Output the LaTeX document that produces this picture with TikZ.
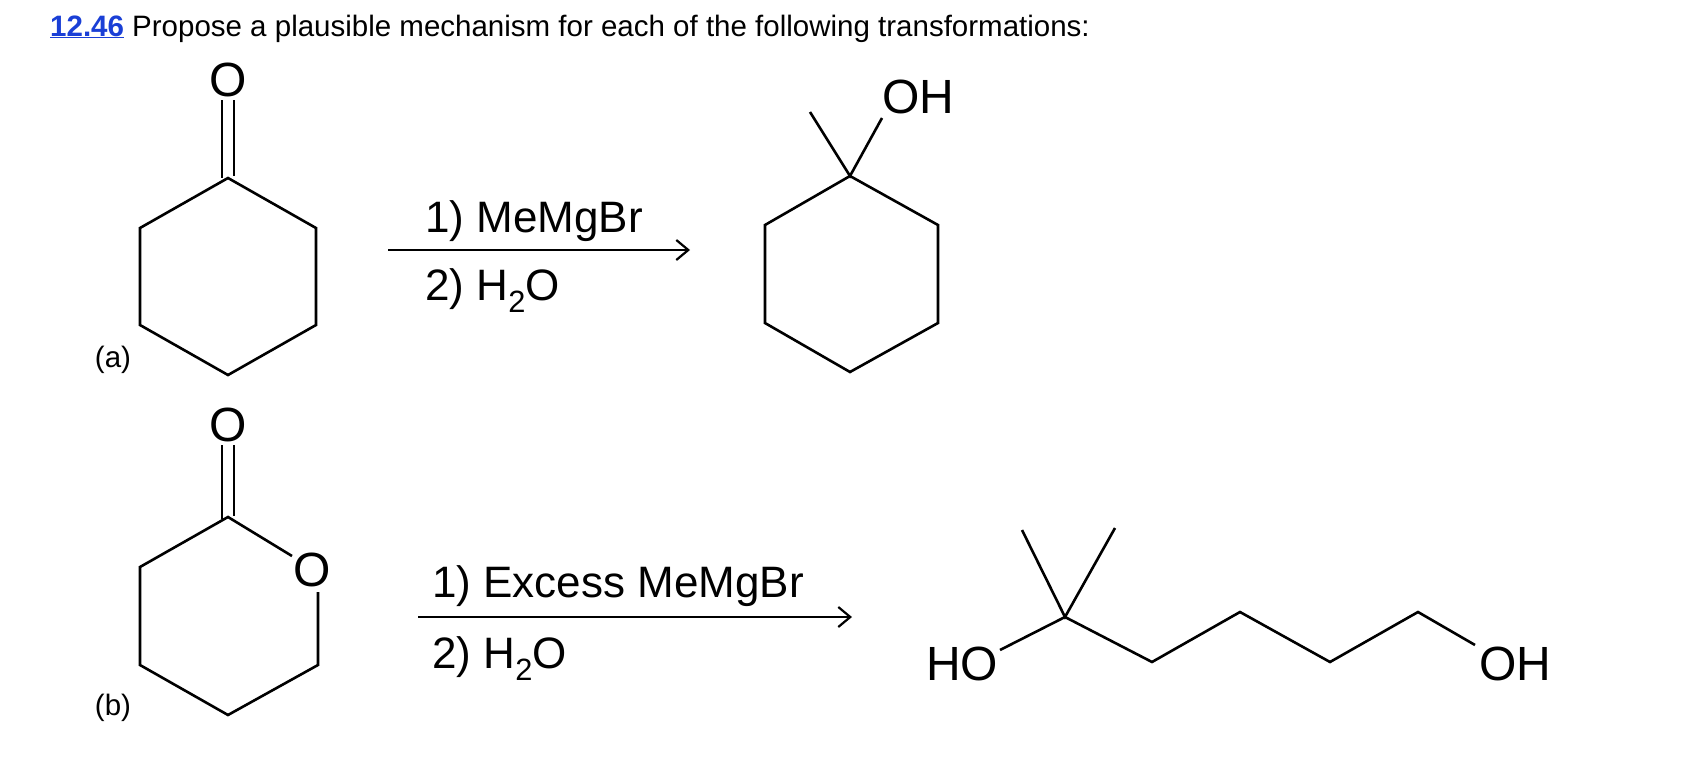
\documentclass[tikz,border=0pt]{standalone}
\usepackage{fontspec}
\setmainfont{Liberation Sans}
\usetikzlibrary{arrows.meta}
\begin{document}
\begin{tikzpicture}[x=1pt,y=-1pt,
 bond/.style={line width=2.6pt,line join=miter},
 atom/.style={inner sep=0pt,font=\fontsize{48}{50}\selectfont},
 reag/.style={inner sep=0pt,anchor=base west,font=\fontsize{44}{46}\selectfont},
 lab/.style={inner sep=0pt,font=\fontsize{29.5}{32}\selectfont},
 arr/.style={line width=2.2pt,-{Straight Barb[length=12pt,width=20pt]}}]
\useasboundingbox[fill=white] (0,0) rectangle (1684,782);
\node[lab,anchor=base west] (title) at (50,36) {\textcolor[HTML]{1A3FD6}{\textbf{\underline{12.46}}} Propose a plausible mechanism for each of the following transformations:};
% (a) reactant
\node[atom] (Oa) at (228,80) {O};
\draw[bond] (222,100) -- (222,178) (234,100) -- (234,176);
\draw[bond] (228,178) -- (316,228) -- (316,325) -- (228,375) -- (140,325) -- (140,228) -- cycle;
\node[lab] (la) at (113,360) {(a)};
% arrow a
\coordinate (a1) at (388,250); \coordinate (a2) at (690,250);
\draw[arr] (a1) -- (a2);
\node[reag] (ra1) at (425,232) {1) MeMgBr};
\node[reag] (ra2) at (425,300) {2) H\textsubscript{2}O};
% (a) product
\node[atom] (OHa) at (918,97) {OH};
\draw[bond] (810,112) -- (850,176) -- (882,118);
\draw[bond] (850,176) -- (938,225) -- (938,323) -- (850,372) -- (765,323) -- (765,225) -- cycle;
% (b) reactant
\node[atom] (Ob) at (228,425) {O};
\node[atom] (Or) at (312,570) {O};
\draw[bond] (222,445) -- (222,519) (234,445) -- (234,516);
\draw[bond] (292,556) -- (228,517) -- (140,567) -- (140,665) -- (228,715) -- (318,665) -- (318,592);
\node[lab] (lb) at (113,708) {(b)};
% arrow b
\coordinate (b1) at (418,617); \coordinate (b2) at (852,617);
\draw[arr] (b1) -- (b2);
\node[reag] (rb1) at (432,597) {1) Excess MeMgBr};
\node[reag] (rb2) at (432,668) {2) H\textsubscript{2}O};
% (b) product
\node[atom] (HO) at (962,664) {HO};
\node[atom] (OHb) at (1515,664) {OH};
\draw[bond] (1022,530) -- (1065,617) -- (1115,528);
\draw[bond] (1000,650) -- (1065,617) -- (1152,662) -- (1240,612) -- (1330,662) -- (1418,612) -- (1475,645);
\end{tikzpicture}
\end{document}
